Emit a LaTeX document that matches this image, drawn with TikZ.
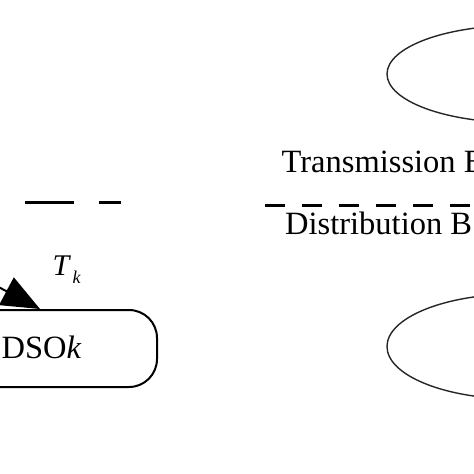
\documentclass[tikz,border=0pt]{standalone}
\usepackage{fontspec}
\setmainfont{Liberation Serif}
\usetikzlibrary{shapes.geometric,arrows.meta}
\begin{document}
\begin{tikzpicture}[x=1pt,y=-1pt,
  region/.style={ellipse, draw=black!85, line width=1.4pt, inner sep=0pt, minimum width=260pt},
  boundary/.style={line width=3pt, dash pattern=on 20pt off 17pt},
  lbl/.style={font=\fontsize{32.5}{36}\selectfont, inner sep=0pt, anchor=base west},
  dsostyle/.style={draw, line width=2pt, rounded corners=28pt, minimum width=277pt, minimum height=77pt, inner sep=0pt},
  flow/.style={line width=2pt, -{Triangle[length=38pt,width=31pt]}}]
\useasboundingbox (0,0) rectangle (474,474);
% regions
\node[region, minimum height=97pt] (trans) at (517,74) {};
\node[region, minimum height=105pt] (dist) at (517,346.5) {};
% boundary lines
\draw[line width=3pt, dash pattern=on 49pt off 25pt on 22pt off 10pt] (25,202.3) -- (121,202.3);
\draw[boundary] (265,205) -- (500,205);
% labels
\node[lbl] (tlabel) at (281.5,172) {Transmission B};
\node[lbl] (dlabel) at (285,234) {Distribution B};
% DSO box
\node[dsostyle] (dsobox) at (18.5,348.5) {};
\node[font=\fontsize{32.5}{36}\selectfont, inner sep=0pt, anchor=base west] (dsolabel) at (1.5,358) {DSO\textit{k}};
% arrow
\coordinate (src) at (-26,274);
\draw[flow] (src) -- ([xshift=21.5pt]dsobox.north);
\node[font=\fontsize{30}{32}\selectfont\itshape, inner sep=0pt, anchor=base west] (tk) at (52.5,275) {T};
\node[font=\fontsize{18}{20}\selectfont\itshape, inner sep=0pt, anchor=base west] (tksub) at (72.5,283) {k};
\end{tikzpicture}
\end{document}
